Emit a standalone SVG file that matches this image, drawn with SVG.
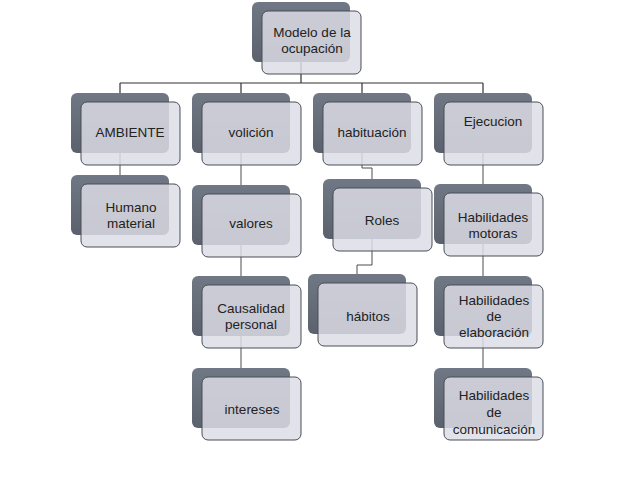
<svg xmlns="http://www.w3.org/2000/svg" width="638" height="479" viewBox="0 0 638 479">
<defs>
<linearGradient id="bg" x1="0" y1="0" x2="0" y2="1">
<stop offset="0" stop-color="#707885"/>
<stop offset="1" stop-color="#5b626d"/>
</linearGradient>
<style>
.back{fill:url(#bg);}
.front{fill:#dcdce6;fill-opacity:0.84;stroke:#4a4e57;stroke-width:1;}
.t{font-family:"Liberation Sans",Arial,sans-serif;font-size:13.5px;fill:#222;text-anchor:middle;}
.c{fill:none;stroke:#4d4d4d;stroke-width:1;}
.cm{fill:none;stroke:#333;stroke-width:1.2;}
</style>
</defs>
<rect width="638" height="479" fill="#fff"/>
<g id="connectors">
<path class="cm" d="M301,62V83M120,83H483M120,83V93M241,83V93M362,83V93M483,83V93"/>
<path class="c" d="M120,153V175M241,153V185M241,245V276M241,336V368M362,153V168H372V179M372,239V265H357V274M483,153V184M483,244V276M483,336V368"/>
</g>
<g id="n-root">
<rect class="back" x="252" y="2" width="98" height="60" rx="6"/>
<rect class="front" x="262" y="11" width="99" height="63" rx="6"/>
<text class="t" x="312" y="37">Modelo de la</text>
<text class="t" x="312" y="53">ocupación</text>
</g>
<g id="n-ambiente">
<rect class="back" x="71" y="93" width="98" height="60" rx="6"/>
<rect class="front" x="81" y="102" width="99" height="63" rx="6"/>
<text class="t" x="130" y="137">AMBIENTE</text>
</g>
<g id="n-volicion">
<rect class="back" x="192" y="93" width="98" height="60" rx="6"/>
<rect class="front" x="202" y="102" width="99" height="63" rx="6"/>
<text class="t" x="251" y="137">volición</text>
</g>
<g id="n-habituacion">
<rect class="back" x="313" y="93" width="98" height="60" rx="6"/>
<rect class="front" x="323" y="102" width="99" height="63" rx="6"/>
<text class="t" x="372" y="137">habituación</text>
</g>
<g id="n-ejecucion">
<rect class="back" x="434" y="93" width="98" height="60" rx="6"/>
<rect class="front" x="444" y="102" width="99" height="63" rx="6"/>
<text class="t" x="493" y="126">Ejecucion</text>
</g>
<g id="n-humano">
<rect class="back" x="71" y="175" width="98" height="60" rx="6"/>
<rect class="front" x="81" y="184" width="99" height="63" rx="6"/>
<text class="t" x="131" y="212">Humano</text>
<text class="t" x="131" y="228">material</text>
</g>
<g id="n-valores">
<rect class="back" x="192" y="185" width="98" height="60" rx="6"/>
<rect class="front" x="202" y="194" width="99" height="63" rx="6"/>
<text class="t" x="251" y="228">valores</text>
</g>
<g id="n-roles">
<rect class="back" x="323" y="179" width="98" height="60" rx="6"/>
<rect class="front" x="333" y="188" width="99" height="63" rx="6"/>
<text class="t" x="382" y="225">Roles</text>
</g>
<g id="n-motoras">
<rect class="back" x="434" y="184" width="98" height="60" rx="6"/>
<rect class="front" x="444" y="193" width="99" height="63" rx="6"/>
<text class="t" x="493" y="222">Habilidades</text>
<text class="t" x="493" y="238">motoras</text>
</g>
<g id="n-causalidad">
<rect class="back" x="192" y="276" width="98" height="60" rx="6"/>
<rect class="front" x="202" y="285" width="99" height="63" rx="6"/>
<text class="t" x="251" y="313">Causalidad</text>
<text class="t" x="251" y="329">personal</text>
</g>
<g id="n-habitos">
<rect class="back" x="308" y="274" width="98" height="60" rx="6"/>
<rect class="front" x="318" y="283" width="99" height="63" rx="6"/>
<text class="t" x="368" y="321">hábitos</text>
</g>
<g id="n-elaboracion">
<rect class="back" x="434" y="276" width="98" height="60" rx="6"/>
<rect class="front" x="444" y="285" width="99" height="63" rx="6"/>
<text class="t" x="494" y="305">Habilidades</text>
<text class="t" x="494" y="321">de</text>
<text class="t" x="494" y="337">elaboración</text>
</g>
<g id="n-intereses">
<rect class="back" x="192" y="368" width="98" height="60" rx="6"/>
<rect class="front" x="202" y="377" width="99" height="63" rx="6"/>
<text class="t" x="252" y="414">intereses</text>
</g>
<g id="n-comunicacion">
<rect class="back" x="434" y="368" width="98" height="60" rx="6"/>
<rect class="front" x="444" y="377" width="99" height="63" rx="6"/>
<text class="t" x="494" y="400">Habilidades</text>
<text class="t" x="494" y="417">de</text>
<text class="t" x="494" y="434">comunicación</text>
</g>
</svg>
